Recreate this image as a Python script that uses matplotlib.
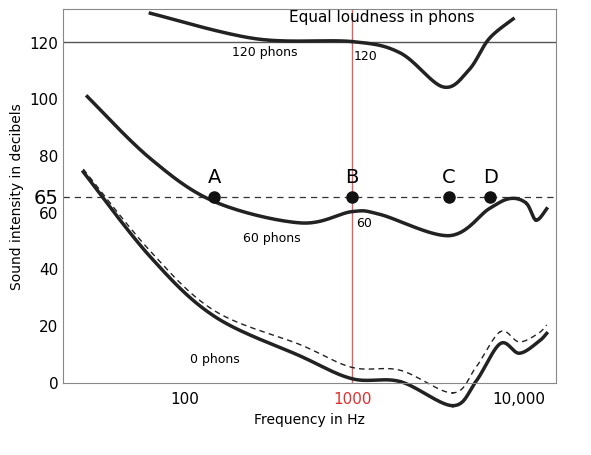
import numpy as np
import matplotlib
matplotlib.use("Agg")
import matplotlib.pyplot as plt

f120 = [62, 265, 1000, 1940, 3500, 5000, 6600, 9200]
db120 = [130, 121, 120, 116, 104, 110, 121, 128]
f60 = [26, 62, 150, 490, 1000, 1470, 3800, 6600, 8800, 11000, 12600, 14600]
db60 = [100.6, 78.7, 63.5, 56, 60, 59, 51.5, 61, 64.6, 63, 57, 61]
f0 = [24.6, 62, 150, 490, 1000, 1940, 4000, 5500, 7700, 10000, 13000, 14600]
db0 = [74, 44, 23, 9, 1, 0, -8.5, 0, 13.4, 10, 14, 17]
f0d = [24.6, 62, 150, 490, 1000, 1940, 4000, 5500, 7700, 10000, 13000, 14600]
db0d = [75, 46, 25, 13, 5, 4, -4, 5, 17.6, 14, 17, 20]
pts_f = [150, 1000, 3800, 6700]
pts_lab = ["A", "B", "C", "D"]

def smooth(fx, y):
    lx = np.log10(fx)
    xs, ys = [], []
    P = list(zip(lx, y))
    P = [P[0]] + P + [P[-1]]
    for i in range(1, len(P) - 2):
        p0, p1, p2, p3 = map(np.array, P[i-1:i+3])
        for s in np.linspace(0, 1, 30):
            v = 0.5*((2*p1) + (-p0+p2)*s + (2*p0-5*p1+4*p2-p3)*s**2 + (-p0+3*p1-3*p2+p3)*s**3)
            xs.append(10**v[0]); ys.append(v[1])
    return xs, ys

fig = plt.figure(figsize=(5.91, 4.56), dpi=100)
ax = fig.add_axes([63/591, 1-384/456, 493/591, 374/456])
ax.set_xscale("log")
ax.set_xlim(18.6, 16600)
ax.set_ylim(-0.5, 131.5)

ax.axhline(120, color="#555", lw=1)
ax.axhline(65, color="#333", lw=0.9, ls=(0, (5, 4)))
ax.axvline(1000, color="#e06060", lw=1)
for fx, y, kw in [(f120, db120, dict(color="#222", lw=2.5)),
                  (f60, db60, dict(color="#222", lw=2.5)),
                  (f0, db0, dict(color="#222", lw=2.5)),
                  (f0d, db0d, dict(color="#222", lw=1, ls=(0, (4, 3))))]:
    xs, ys = smooth(fx, y)
    ax.plot(xs, ys, clip_on=False, **kw)
ax.plot(pts_f, [65]*4, "o", color="#111", ms=8, zorder=5)
for x, l in zip(pts_f, pts_lab):
    ax.text(x, 69, l, ha="center", va="bottom", fontsize=14)

ax.text(1500, 129, "Equal loudness in phons", ha="center", va="center", fontsize=11)
ax.text(300, 116.5, "120 phons", ha="center", va="center", fontsize=9)
ax.text(1020, 115, "120", ha="left", va="center", fontsize=9)
ax.text(330, 51, "60 phons", ha="center", va="center", fontsize=9)
ax.text(1050, 56, "60", ha="left", va="center", fontsize=9)
ax.text(150, 8, "0 phons", ha="center", va="center", fontsize=9)

ax.set_yticks([0, 20, 40, 60, 80, 100, 120])
ax.tick_params(axis="y", length=0, labelsize=11)
ax.set_xticks([100, 1000, 10000])
ax.set_xticklabels(["100", "1000", "10,000"], fontsize=11)
ax.get_xticklabels()[1].set_color("#e03030")
ax.tick_params(axis="x", length=0, pad=6)
ax.minorticks_off()
ax.text(-0.01, 65, "65", transform=ax.get_yaxis_transform(), ha="right", va="center", fontsize=14)
ax.set_xlabel("Frequency in Hz", fontsize=10)
ax.set_ylabel("Sound intensity in decibels", fontsize=10)
for s in ax.spines.values():
    s.set_color("#888")
fig.savefig("out.png", dpi=100)
